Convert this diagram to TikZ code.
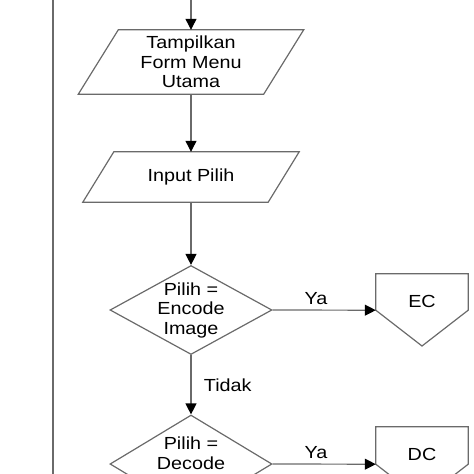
\documentclass[tikz,border=0pt]{standalone}
\usepackage{fontspec}
\setmainfont{Liberation Sans}[FakeStretch=1.13]
\usetikzlibrary{shapes.geometric,arrows.meta}
\definecolor{linegray}{HTML}{6A6A6A}

\tikzset{
  line/.style={draw=linegray, line width=1.2pt},
  arr/.style={line, -{Triangle[length=11pt,width=11pt,color=black]}},
  io/.style={inner sep=0pt, align=center, minimum width=185pt},
  decide/.style={line, diamond, inner sep=0pt},
  offbody/.style={inner sep=0pt, minimum width=92pt},
  txt/.style={align=center, inner sep=0pt}
}

\begin{document}
\begin{tikzpicture}[x=1pt,y=-1pt,font=\fontsize{17.5}{19.5}\selectfont]
\useasboundingbox (0,0) rectangle (474,474);
\clip (0,0) rectangle (474,474);

% garis kiri
\draw[line] (53,-5) -- (53,480);

\coordinate (top) at (191,-5);
\node[io, minimum height=64pt] (tampil) at (191,62) {Tampilkan\\Form Menu\\Utama};
\draw[line] ([xshift=-20pt]tampil.south west) -- ([xshift=-20pt]tampil.south east)
  -- ([xshift=20pt]tampil.north east) -- ([xshift=20pt]tampil.north west) -- cycle;
\node[io, minimum height=50pt] (input) at (191,177) {Input Pilih};
\draw[line] ([xshift=-15.5pt]input.south west) -- ([xshift=-15.5pt]input.south east)
  -- ([xshift=15.5pt]input.north east) -- ([xshift=15.5pt]input.north west) -- cycle;
\node[decide, minimum width=162pt, minimum height=89pt] (encode) at (191,310) {};
\node[txt] at (encode) {Pilih =\\Encode\\Image};
\node[decide, minimum width=162pt, minimum height=98pt] (decode) at (191,464) {};
\node[txt] at (191,453) {Pilih =\\Decode};

% konektor EC dan DC
\node[offbody, minimum height=36pt] (ec) at (422,292) {};
\draw[line] (ec.north west) -- (ec.north east) -- (ec.south east) -- (422,346) -- (ec.south west) -- cycle;
\node[txt] at (422,301) {EC};
\node[offbody, minimum height=37pt] (dc) at (422,445.5) {};
\draw[line] (dc.north west) -- (dc.north east) -- (dc.south east) -- (422,500) -- (dc.south west) -- cycle;
\node[txt] at (422,454) {DC};

\draw[arr] (top) -- (tampil);
\draw[arr] (tampil) -- (input);
\draw[arr] (input) -- (encode);
\draw[arr] (encode) -- node[right, xshift=9pt] {Tidak} (decode);
\draw[arr] (encode.east) -- node[above, pos=.42, inner sep=5pt] {Ya} (ec.south west);
\draw[arr] (decode.east) -- node[above, pos=.42, inner sep=5pt] {Ya} (dc.south west);
\end{tikzpicture}
\end{document}
